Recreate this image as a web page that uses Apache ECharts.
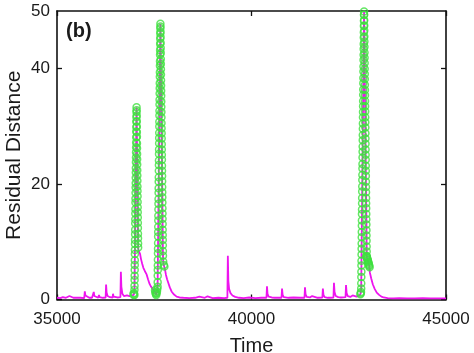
<!DOCTYPE html>
<html>
<head>
<meta charset="utf-8">
<script src="https://cdn.jsdelivr.net/npm/echarts@6/dist/echarts.min.js"></script>
<style>
  html, body { margin: 0; padding: 0; background: #fff; }
  #chart_main { width: 474px; height: 353px; }
</style>
</head>
<body>
<div id="chart_main"></div>
<script type="text/javascript">
// axis ranges and tick labels
var xTicks = [35000, 40000, 45000];
var yTicks = [0, 20, 40];
var yLabels = [0, 20, 40, 50];

// quiet stretches of the residual (time, value)
var calm1 = [[35000,0.3],[35080,0.25],[35150,0.4],[35230,0.3],[35320,0.6],[35340,0.35],[35420,0.3],[35470,0.55],[35500,0.3],[35600,0.3],
  [35700,0.25],[35715,1.4],[35730,0.7],[35760,0.4],[35830,0.3],[35900,0.3],[35945,1.3],[35960,0.6],[35990,0.35],[36060,0.3],
  [36080,0.8],[36095,0.4],[36180,0.3],[36250,0.35],[36262,2.6],[36275,1.2],[36300,0.6],[36360,0.4],[36430,0.35],[36440,1.0],
  [36455,0.5],[36550,0.35],[36630,0.4],[36642,4.8],[36655,2.2],[36680,1.0],[36720,0.6],[36800,0.7],[36860,0.6],[36920,0.7],[36950,0.8]];
var calm2 = [[37095,8.5],[37115,8.2],[37135,7.9],[37160,7.0],[37190,6.2],[37220,5.5],[37260,4.9],[37300,4.4],[37340,3.5],
  [37380,2.7],[37420,2.2],[37460,1.8],[37490,1.6],[37510,1.6]];
var calm3 = [[37775,5.2],[37800,4.3],[37830,3.5],[37860,2.9],[37900,2.1],[37945,1.4],[38000,0.9],[38075,0.5],[38150,0.35],
  [38250,0.3],[38400,0.25],[38550,0.3],[38660,0.5],[38680,0.3],[38800,0.3],[38870,0.55],[38890,0.3],[39000,0.25],[39150,0.3],
  [39300,0.25],[39380,0.3],[39392,7.6],[39405,3.2],[39425,1.8],[39460,1.1],[39510,0.7],[39580,0.45],[39680,0.3],[39800,0.25],
  [39940,0.35],[39960,0.55],[39980,0.3],[40100,0.25],[40250,0.3],[40385,0.3],[40398,2.3],[40412,1.0],[40440,0.5],[40520,0.35],
  [40600,0.3],[40700,0.3],[40772,0.3],[40785,1.9],[40800,0.8],[40830,0.4],[40950,0.3],[41080,0.35],[41100,0.55],[41120,0.3],
  [41250,0.3],[41362,0.3],[41375,2.1],[41390,0.9],[41420,0.45],[41500,0.35],[41560,0.6],[41580,0.35],[41700,0.3],[41822,0.35],
  [41835,1.9],[41850,0.8],[41880,0.4],[41960,0.3],[42000,0.5],[42020,0.3],[42107,0.35],[42120,2.9],[42135,1.3],[42165,0.6],
  [42230,0.4],[42300,0.35],[42417,0.4],[42430,2.5],[42445,1.1],[42475,0.6],[42540,0.45],[42600,0.7],[42620,0.5],[42700,0.5],[42780,0.7]];
var calm4 = [[43045,4.6],[43080,3.6],[43120,2.6],[43170,1.8],[43220,1.2],[43280,0.8],[43340,0.5],[43400,0.35],[43500,0.25],
  [43650,0.2],[43800,0.25],[44000,0.2],[44200,0.2],[44400,0.25],[44600,0.2],[44800,0.2],[45000,0.2]];

// detected anomalies: each burst is sampled every 1.5 time units (up then down)
var step = 1.5;
var pre1 = [[36965,1.0],[36975,0.8],[36982,1.1]];
var burst1Start = 36990;
var burst1 = [0.8,1.7,2.4,3.4,4.1,5.1,6.0,6.8,7.9,8.6,9.6,10.3,11.3,12.1,13.2,13.9,14.9,15.7,16.8,17.5,18.5,19.4,20.2,21.1,22.0,
  22.8,23.8,24.6,25.5,26.4,27.2,28.1,29.1,29.9,30.8,31.6,32.5,33.3,
  32.8,31.9,30.9,30.0,29.0,28.2,27.1,26.2,25.2,24.3,23.4,22.4,21.5,20.6,19.6,18.8,17.9,16.9,16.0,15.1,14.2,13.3,12.4,11.4,
  10.6,9.7,9.0];

var pre2 = [[37520,1.6],[37530,1.2],[37540,1.0],[37550,0.8],[37560,1.1],[37570,1.4],[37578,1.8]];
var burst2Start = 37586;
var burst2 = [2.2,3.0,4.1,5.1,5.9,6.9,8.0,8.8,9.8,10.9,11.7,12.6,13.7,14.5,15.6,16.6,17.4,18.5,19.3,20.4,21.2,22.3,23.3,24.1,25.2,
  26.0,27.1,28.0,28.9,30.0,30.8,31.9,32.7,33.8,34.6,35.7,36.6,37.5,38.6,39.4,40.5,41.3,42.4,43.2,44.3,45.2,46.1,47.0,47.8,
  47.3,46.4,45.5,44.5,43.6,42.7,41.7,40.8,39.9,39.0,38.0,37.1,36.2,35.3,34.3,33.4,32.5,31.6,30.6,29.7,28.8,27.9,26.9,26.0,
  25.1,24.2,23.2,22.3,21.4,20.5,19.5,18.6,17.7,16.8,15.8,14.9,14.0,13.1,12.1,11.2,10.3,9.4,8.4,7.6];
var post2 = [[37730,6.6],[37745,6.0],[37760,5.7]];

var pre3 = [[42800,0.9],[42808,1.1],[42815,1.3]];
var burst3Start = 42820;
var burst3 = [1.9,2.8,3.9,4.8,5.9,6.7,7.8,8.8,9.7,10.8,11.7,12.8,13.7,14.8,15.6,16.7,17.6,18.7,19.6,20.7,21.6,22.7,23.5,24.6,25.6,
  26.5,27.6,28.5,29.6,30.5,31.6,32.5,33.5,34.4,35.5,36.4,37.5,38.4,39.5,40.4,41.5,42.4,43.4,44.3,45.4,46.3,47.4,48.3,49.3,49.9,
  49.4,48.4,47.5,46.6,45.6,44.7,43.8,42.8,41.9,41.0,40.0,39.1,38.2,37.2,36.3,35.4,34.4,33.5,32.6,31.6,30.7,29.8,28.8,27.9,
  27.0,26.0,25.1,24.2,23.2,22.3,21.4,20.4,19.5,18.6,17.6,16.7,15.8,14.8,13.9,13.0,12.0,11.1,10.2,9.2,8.3,7.5];
var post3 = [[42950,7.6],[42958,7.4],[42968,7.3],[42975,7.1],[42982,6.9],[42990,6.8],[42997,6.6],[43004,6.4],[43012,6.2],
  [43020,6.0],[43028,5.8],[43036,5.6]];

function sampled(start, vals) {
    var out = [];
    for (var i = 0; i < vals.length; i++) out.push([start + i * step, vals[i]]);
    return out;
}

var anom1 = pre1.concat(sampled(burst1Start, burst1));
var anom2 = pre2.concat(sampled(burst2Start, burst2), post2);
var anom3 = pre3.concat(sampled(burst3Start, burst3), post3);
var anomalies = anom1.concat(anom2, anom3);
var residual = calm1.concat(anom1, calm2, anom2, calm3, anom3, calm4);

var font = 'Liberation Sans, Arial, sans-serif';
var ink = '#1a1a1a';
var frame = { show: true, onZero: false, lineStyle: { color: '#111', width: 1.6 } };
var tick = { inside: true, length: 5, lineStyle: { color: '#111', width: 1.3 } };

var myChart = echarts.init(document.getElementById('chart_main'));
var option = {
    animation: false,
    backgroundColor: '#fff',
    title: {
        text: '(b)', left: 66, top: 21, padding: 0,
        textStyle: { fontFamily: font, fontSize: 20, fontWeight: 'bold', color: ink }
    },
    grid: { left: 57, right: 28, top: 11, bottom: 53.5, containLabel: false, outerBoundsMode: 'none' },
    xAxis: [{
        type: 'value', position: 'bottom', min: 35000, max: 45000, interval: 5000,
        axisLine: frame,
        axisTick: tick,
        axisLabel: {
            fontFamily: font, fontSize: 17, color: ink, margin: 11, customValues: xTicks,
            formatter: function (v) { return String(v); }
        },
        splitLine: { show: false },
        name: 'Time', nameLocation: 'middle', nameGap: 37,
        nameTextStyle: { fontFamily: font, fontSize: 20, color: ink }
    }, {
        type: 'value', position: 'top', min: 35000, max: 45000, interval: 5000,
        axisLine: frame,
        axisTick: tick,
        axisLabel: { show: false },
        splitLine: { show: false }
    }],
    yAxis: [{
        type: 'value', position: 'left', min: 0, max: 50,
        axisLine: frame,
        axisTick: { inside: true, length: 5, customValues: yTicks, lineStyle: { color: '#111', width: 1.3 } },
        axisLabel: { fontFamily: font, fontSize: 17, color: ink, margin: 7, customValues: yLabels },
        splitLine: { show: false },
        name: 'Residual Distance', nameLocation: 'middle', nameGap: 32, nameMoveOverlap: false,
        nameTextStyle: { fontFamily: font, fontSize: 21, color: ink }
    }, {
        type: 'value', position: 'right', min: 0, max: 50,
        axisLine: frame,
        axisTick: { inside: true, length: 5, customValues: yTicks, lineStyle: { color: '#111', width: 1.3 } },
        axisLabel: { show: false },
        splitLine: { show: false }
    }],
    series: [{
        name: 'Residual', type: 'line', data: residual,
        showSymbol: false, sampling: false, z: 2,
        lineStyle: { color: '#ee14ee', width: 1.8 }
    }, {
        name: 'Anomaly', type: 'scatter', data: anomalies,
        symbol: 'circle', symbolSize: 7, z: 3,
        itemStyle: { color: 'rgba(0,0,0,0)', borderColor: '#3ee03e', borderWidth: 1.5 }
    }]
};
myChart.setOption(option);
</script>
</body>
</html>
